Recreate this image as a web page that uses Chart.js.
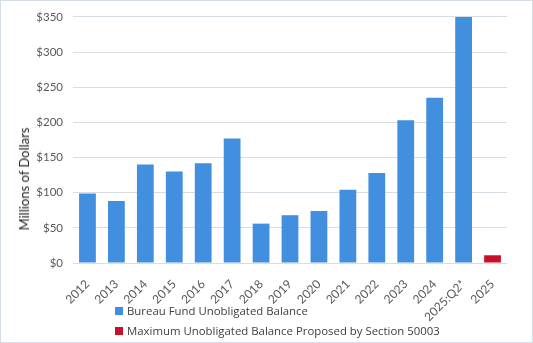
<!DOCTYPE html>
<html>
<head>
<meta charset="utf-8">
<script src="https://cdn.jsdelivr.net/npm/chart.js@4/dist/chart.umd.min.js"></script>
<style>
  html, body { margin: 0; padding: 0; background: #fff; }
  #wrap { position: relative; width: 533px; height: 343px; }
  #frame { position: absolute; left: 0; top: 0; width: 531px; height: 341px; border: 1px solid #d5dde6; pointer-events: none; }
  .leg { position: absolute; left: 115px; font-family: "Open Sans", Lato, sans-serif; font-size: 11.4px; color: #404040; white-space: nowrap; line-height: 14px; }
  .leg span.sw { display: inline-block; width: 8px; height: 8px; margin-right: 4px; vertical-align: 0px; }
  #ytitle { position: absolute; left: 24px; top: 179px; transform: translate(-50%, -50%) rotate(-90deg); font-family: Lato, sans-serif; font-size: 13px; color: #262626; white-space: nowrap; line-height: 14px; }
</style>
</head>
<body>
<div id="wrap">
  <canvas id="c" width="533" height="343"></canvas>
  <div id="ytitle">Millions of Dollars</div>
  <div class="leg" style="top:304px;"><span class="sw" style="background:#428fdf"></span>Bureau Fund Unobligated Balance</div>
  <div class="leg" style="top:324px;"><span class="sw" style="background:#c8102e"></span>Maximum Unobligated Balance Proposed by Section 50003</div>
  <div id="frame"></div>
</div>
<script>
const categories = ["2012","2013","2014","2015","2016","2017","2018","2019","2020","2021","2022","2023","2024","2025:Q2*","2025"];
const bureauBalance = [99, 88, 140, 130, 142, 177, 56, 68, 74, 104, 128, 203, 235, 350, null];
const proposedMax = [null, null, null, null, null, null, null, null, null, null, null, null, null, null, 11];
const yTicks = [0, 50, 100, 150, 200, 250, 300, 350];
const seriesNames = ["Bureau Fund Unobligated Balance", "Maximum Unobligated Balance Proposed by Section 50003"];

new Chart(document.getElementById('c'), {
  type: 'bar',
  data: {
    labels: categories,
    datasets: [
      { label: seriesNames[0], data: bureauBalance, backgroundColor: '#428fdf', grouped: false, categoryPercentage: 1, barPercentage: 0.58 },
      { label: seriesNames[1], data: proposedMax, backgroundColor: '#c8102e', grouped: false, categoryPercentage: 1, barPercentage: 0.58 }
    ]
  },
  options: {
    responsive: false,
    animation: false,
    events: [],
    layout: { padding: { left: 0, right: 26, top: 15, bottom: 0 } },
    plugins: { legend: { display: false }, tooltip: { enabled: false } },
    scales: {
      x: {
        grid: { display: false },
        border: { display: false },
        ticks: {
          color: '#595959', font: { family: 'Lato', size: 12 },
          maxRotation: 45, minRotation: 45, autoSkip: false, padding: 6
        },
        afterFit: s => { s.height = 80; }
      },
      y: {
        min: 0, max: 350,
        afterBuildTicks: s => { s.ticks = yTicks.map(v => ({ value: v })); },
        grid: { color: '#d6dde5', lineWidth: 1, drawTicks: false },
        border: { display: false },
        ticks: {
          color: '#595959', font: { family: 'Lato', size: 11.5 }, padding: 10,
          callback: v => '$' + v
        },
        afterFit: s => { s.width = 73; }
      }
    }
  }
});
</script>
</body>
</html>
